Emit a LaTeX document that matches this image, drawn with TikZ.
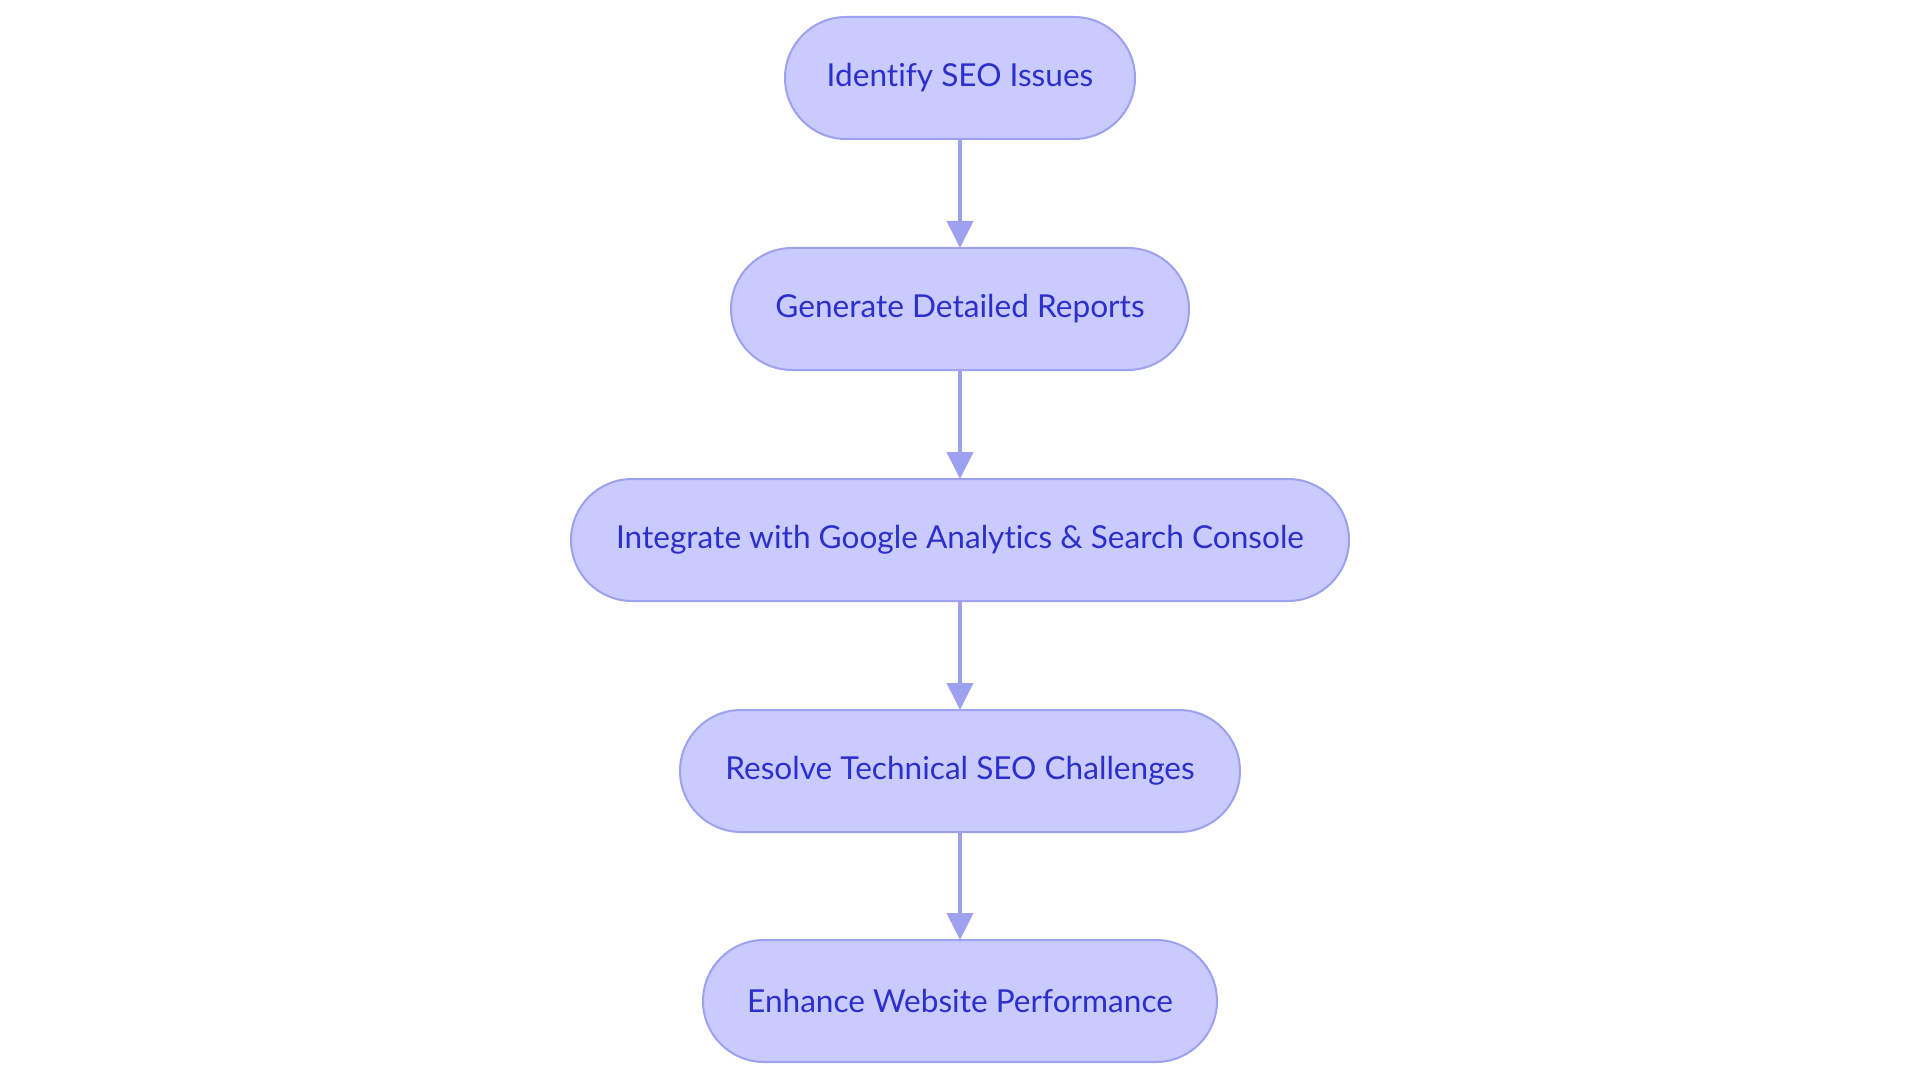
\documentclass[tikz,border=0pt]{standalone}
\usepackage{fontspec}
\setmainfont{Lato}[Ligatures=NoCommon]
\usetikzlibrary{arrows.meta}
\definecolor{nfill}{HTML}{C9CAFE}
\definecolor{nline}{HTML}{9EA1F0}
\definecolor{ntext}{HTML}{2B2FCB}
\begin{document}
\begin{tikzpicture}[x=1pt,y=-1pt,
  stepbox/.style={draw=nline,fill=nfill,line width=2pt,rounded corners=61pt,
    minimum height=122pt,inner sep=0pt,text=ntext,font=\fontsize{31.6}{36}\selectfont},
  flow/.style={draw=nline,line width=4pt,-{Triangle[length=27pt,width=26pt]},shorten >=-1pt}]
\useasboundingbox (0,0) rectangle (1920,1083);
\node[stepbox,minimum width=350pt] (n1) at (960,78) {Identify SEO Issues};
\node[stepbox,minimum width=458pt] (n2) at (960,309) {Generate Detailed Reports};
\node[stepbox,minimum width=778pt] (n3) at (960,540) {Integrate with Google Analytics \& Search Console};
\node[stepbox,minimum width=560pt] (n4) at (960,771) {Resolve Technical SEO Challenges};
\node[stepbox,minimum width=514pt] (n5) at (960,1001) {Enhance Website Performance};
\draw[flow] (n1) -- (n2);
\draw[flow] (n2) -- (n3);
\draw[flow] (n3) -- (n4);
\draw[flow] (n4) -- (n5);
\end{tikzpicture}
\end{document}
